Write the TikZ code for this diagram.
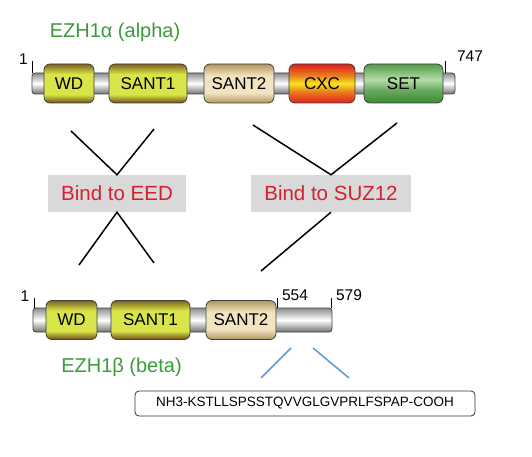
\documentclass[tikz,border=0pt]{standalone}
\usepackage{fontspec}
\setmainfont{Liberation Sans}
\usetikzlibrary{calc}
\definecolor{wdbarna}{HTML}{6E4A16}
\definecolor{wdsarga}{HTML}{D8E448}
\definecolor{santszel}{HTML}{B0965E}
\definecolor{santkozep}{HTML}{F2E4C0}
\definecolor{cxcpiros}{HTML}{DE1E1E}
\definecolor{cxcsarga}{HTML}{F6E41E}
\definecolor{setszel}{HTML}{3A8A32}
\definecolor{setkozep}{HTML}{B4DCA6}
\definecolor{gerincszurke}{HTML}{8C8C8C}
\definecolor{nevzold}{HTML}{3C9A3C}
\definecolor{kotpiros}{HTML}{D42030}
\definecolor{kotszurke}{HTML}{D9D9D9}
\definecolor{vonalkek}{HTML}{5B9BD5}
% Függőleges színátmenetek a doménekhez
\pgfdeclareverticalshading{wdarnyek}{100bp}{color(0bp)=(wdbarna); color(25bp)=(wdbarna);
    color(36bp)=(wdsarga); color(62bp)=(wdsarga); color(75bp)=(wdbarna!85!wdsarga); color(100bp)=(wdbarna!85!wdsarga)}
\pgfdeclareverticalshading{santarnyek}{100bp}{color(0bp)=(santszel); color(25bp)=(santszel);
    color(38bp)=(santkozep); color(60bp)=(santkozep); color(75bp)=(santszel); color(100bp)=(santszel)}
\pgfdeclareverticalshading{cxcarnyek}{100bp}{color(0bp)=(cxcpiros); color(25bp)=(cxcpiros);
    color(40bp)=(cxcpiros!50!cxcsarga); color(50bp)=(cxcsarga); color(60bp)=(cxcpiros!50!cxcsarga); color(75bp)=(cxcpiros); color(100bp)=(cxcpiros)}
\pgfdeclareverticalshading{setarnyek}{100bp}{color(0bp)=(setszel); color(25bp)=(setszel);
    color(42bp)=(setszel!60!setkozep); color(55bp)=(setkozep); color(75bp)=(setszel!80!setkozep); color(100bp)=(setszel!80!setkozep)}

\begin{document}
\begin{tikzpicture}[x=1pt,y=-1pt,
        domen/.style={draw=black!75, line width=0.8pt, rounded corners=6pt,
            minimum height=39pt, inner sep=0pt, font=\fontsize{17}{17}\selectfont},
        wd/.style={domen, shade, shading=wdarnyek},
        sant/.style={domen, shade, shading=santarnyek},
        cxc/.style={domen, shade, shading=cxcarnyek},
        setd/.style={domen, shade, shading=setarnyek},
        gerinc/.style={draw=black!75, line width=0.8pt, rounded corners=3pt,
            top color=gerincszurke, bottom color=gerincszurke!80!black, middle color=white},
        nev/.style={text=nevzold, font=\fontsize{20}{20}\selectfont},
        szam/.style={inner sep=0pt, font=\fontsize{15.5}{15.5}\selectfont},
        kotes/.style={fill=kotszurke, text=kotpiros, minimum height=37pt,
            inner sep=0pt, font=\fontsize{20.5}{20.5}\selectfont},
        vonal/.style={line width=1.5pt},
        kekvonal/.style={vonalkek, line width=1.5pt}]
        \useasboundingbox (0,0) rectangle (532,457);
        % Az alfa forma neve
        \node[nev] (alfanev) at (115,32) {EZH1α (alpha)};
        % Az alfa forma gerince és végjelei
        \draw[gerinc] (32,73) rectangle (455,94);
        \draw (32,61) -- (32,73);
        \draw (445,61) -- (445,73);
        \node[szam] (alfa1) at (23.5,59) {1};
        \node[szam] (alfa747) at (470,56) {747};
        % Az alfa forma doménjei
        \node[wd, minimum width=50pt] (aWD) at (69,83.5) {WD};
        \node[wd, minimum width=78pt] (aSANT1) at (148,83.5) {SANT1};
        \node[sant, minimum width=70pt] (aSANT2) at (239,83.5) {SANT2};
        \node[cxc, minimum width=66pt] (aCXC) at (322,83.5) {CXC};
        \node[setd, minimum width=79pt] (aSET) at (403.5,83.5) {SET};
        % A kötőhelyek dobozai
        \node[kotes, minimum width=138pt] (eed) at (117,193.5) {Bind to EED};
        \node[kotes, minimum width=160pt] (suz) at (331,193.5) {Bind to SUZ12};
        % A vonalak végpontjai
        \coordinate (eedBF) at (71,131);
        \coordinate (eedJF) at (154,129);
        \coordinate (eedBL) at (79,265);
        \coordinate (eedJL) at (154,263);
        \coordinate (suzBF) at (253,125);
        \coordinate (suzJF) at (397,123);
        \coordinate (suzBL) at (261,271);
        % Összekötjük a doménterületeket a dobozokkal
        \draw[vonal] (eedBF) -- (eed.north) -- (eedJF);
        \draw[vonal] (eedBL) -- (eed.south) -- (eedJL);
        \draw[vonal] (suzBF) -- (suz.north) -- (suzJF);
        \draw[vonal] (suz.south) -- (suzBL);
        % A béta forma gerince és végjelei
        \draw[gerinc] (33,308) rectangle (332,332);
        \draw (34,298) -- (34,308);
        \draw (277,298) -- (277,308);
        \draw (331,298) -- (331,308);
        \node[szam] (beta1) at (25,296) {1};
        \node[szam] (beta554) at (295,295) {554};
        \node[szam] (beta579) at (349,295) {579};
        % A béta forma doménjei
        \node[wd, minimum width=51pt] (bWD) at (71.5,320) {WD};
        \node[wd, minimum width=79pt] (bSANT1) at (150.5,320) {SANT1};
        \node[sant, minimum width=70pt] (bSANT2) at (241,320) {SANT2};
        % A béta forma neve
        \node[nev] (betanev) at (121.5,367) {EZH1β (beta)};
        % A C-terminális szakasz szekvenciája
        \node[draw=black!80, line width=0.8pt, rounded corners=4pt, minimum width=340pt,
            minimum height=25pt, inner sep=0pt, font=\fontsize{13.5}{13.5}\selectfont]
            (szekv) at (305,403.5) {NH3-KSTLLSPSSTQVVGLGVPRLFSPAP-COOH};
        % Kék vonalak a szekvenciához
        \coordinate (kekBF) at (291,348);
        \coordinate (kekBL) at (261,378);
        \coordinate (kekJF) at (313,348);
        \coordinate (kekJL) at (349,378);
        \draw[kekvonal] (kekBF) -- (kekBL);
        \draw[kekvonal] (kekJF) -- (kekJL);
    \end{tikzpicture}
\end{document}
